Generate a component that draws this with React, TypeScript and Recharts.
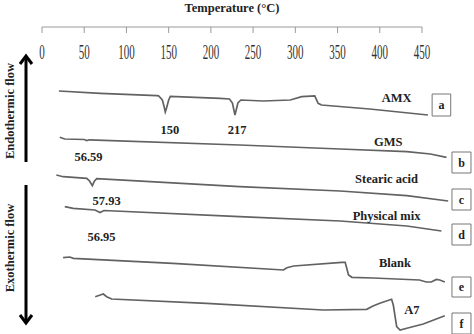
import {
  LineChart,
  Line,
  XAxis,
  YAxis,
  ReferenceLine,
  ReferenceDot,
  ReferenceArea,
} from "recharts";

const tempTicks = [0, 50, 100, 150, 200, 250, 300, 350, 400, 450];

// DSC traces: [temperature °C, heat flow (arbitrary units, each trace offset)]
const amx = [
  [20, 236], [69, 233.7], [136, 231.3], [138, 231.2], [142.5, 227], [145, 219],
  [146, 215], [147.5, 219], [150, 227], [152, 230.7], [211, 228.7], [222, 228],
  [225.5, 224], [227.5, 216], [228.5, 212], [230, 217], [232, 224], [235.5, 227],
  [262, 226], [294, 227], [307.5, 230.3], [323, 231], [327, 223.7], [331, 222],
  [388, 218], [457, 212],
];
const gms = [
  [21, 189.7], [27, 188], [50, 187.5], [53, 186.5], [56, 187.2], [234, 182],
  [353, 178], [432, 175.3], [460, 173], [479, 169.7],
];
const stearic = [
  [17, 152], [25, 150.3], [53, 148.7], [56.3, 146], [59.6, 141.3], [62.2, 146],
  [64.8, 148.3], [234, 140.3], [353, 136], [432, 131.3], [481, 126],
];
const physMix = [
  [27, 120.3], [37, 118.7], [62.7, 117], [68.7, 114.5], [73.4, 116.5],
  [234, 110.3], [353, 106], [432, 101], [473, 96],
];
const blank = [
  [25, 69.3], [33, 70], [37, 68.7], [155, 63.7], [286, 57], [290, 59.3],
  [298, 61], [355, 64.7], [359, 64.7], [363, 52], [367, 49.7], [392, 49],
  [447, 47], [455, 45], [461, 45], [467, 47.5], [471, 47], [477, 45],
];
const a7 = [
  [63, 30.3], [69, 32], [72.6, 33], [76.6, 30.3], [82.5, 28], [195, 23.7],
  [333, 17], [384.5, 17.7], [392, 21], [400, 23.7], [414, 27.7], [416, 22],
  [420, 0.3], [424, -3], [432, -1.3], [451.5, 3], [477, 11.3],
];

const traces = [amx, gms, stearic, physMix, blank, a7];

const traceNames = [
  { text: "AMX", t: 420, v: 229 },
  { text: "GMS", t: 410, v: 185 },
  { text: "Stearic acid", t: 408, v: 148.5 },
  { text: "Physical mix", t: 408, v: 111 },
  { text: "Blank", t: 418, v: 64 },
  { text: "A7", t: 438, v: 17 },
];

const peakLabels = [
  { text: "150", t: 151.5, v: 197 },
  { text: "217", t: 231, v: 197 },
  { text: "56.59", t: 55, v: 170 },
  { text: "57.93", t: 76.5, v: 126 },
  { text: "56.95", t: 70.5, v: 90 },
];

const panels = [
  { id: "a", t1: 462, t2: 484, v1: 211, v2: 233 },
  { id: "b", t1: 485.5, t2: 508, v1: 154, v2: 175 },
  { id: "c", t1: 485.5, t2: 508, v1: 117, v2: 138 },
  { id: "d", t1: 485.5, t2: 508, v1: 82, v2: 103 },
  { id: "e", t1: 485.5, t2: 508, v1: 30, v2: 50 },
  { id: "f", t1: 485.5, t2: 508, v1: -7, v2: 14 },
];

const serif = "'Liberation Serif', 'Times New Roman', serif";

// condensed serif digits like the scanned figure
const renderTempTick = (props: any) => {
  const { x, y, payload } = props;
  return (
    <g transform={`translate(${x},${y})`}>
      <text
        transform="scale(0.55,1)"
        x={0}
        y={0}
        textAnchor="middle"
        dy={24}
        fontSize={20}
        fontFamily={serif}
        fill="#333"
      >
        {payload.value}
      </text>
    </g>
  );
};

const textShape = (text: string) => (p: any) => (
  <text
    x={p.cx}
    y={p.cy}
    textAnchor="middle"
    dominantBaseline="central"
    fontSize={12.5}
    fontWeight="bold"
    fontFamily={serif}
    fill="#222"
  >
    {text}
  </text>
);

export default function App() {
  return (
    <div
      style={{
        position: "absolute",
        left: 0,
        top: 0,
        width: 474,
        height: 334,
        background: "#fff",
        overflow: "hidden",
      }}
    >
      <LineChart
        width={474}
        height={334}
        margin={{ top: 27, right: 1.33, bottom: 0, left: 42 }}
      >
        <XAxis
          type="number"
          dataKey="t"
          orientation="top"
          mirror
          domain={[0, 510]}
          allowDataOverflow
          ticks={tempTicks}
          axisLine={false}
          tickLine={{ stroke: "#999" }}
          tickSize={6}
          tick={renderTempTick}
        />
        <YAxis type="number" dataKey="v" hide domain={[-7, 300]} allowDataOverflow />
        <ReferenceLine
          segment={[
            { x: 0, y: 300 },
            { x: 450, y: 300 },
          ]}
          stroke="#999"
          strokeWidth={1.2}
        />
        {traces.map((rows, i) => (
          <Line
            key={i}
            data={rows.map(([t, v]) => ({ t, v }))}
            dataKey="v"
            type="linear"
            stroke="#626262"
            strokeWidth={1.7}
            dot={false}
            isAnimationActive={false}
          />
        ))}
        {traceNames.concat(peakLabels).map((l) => (
          <ReferenceDot
            key={l.text}
            x={l.t}
            y={l.v}
            r={0}
            ifOverflow="visible"
            shape={textShape(l.text)}
          />
        ))}
        {panels.map((p) => (
          <ReferenceArea
            key={p.id}
            x1={p.t1}
            x2={p.t2}
            y1={p.v1}
            y2={p.v2}
            fill="#fff"
            fillOpacity={1}
            stroke="#777"
            strokeWidth={1}
            ifOverflow="visible"
            label={{
              value: p.id,
              position: "center",
              fontSize: 12,
              fontWeight: "bold",
              fontFamily: serif,
              fill: "#222",
            }}
          />
        ))}
      </LineChart>
      <svg
        width={474}
        height={334}
        style={{ position: "absolute", left: 0, top: 0, pointerEvents: "none" }}
      >
        <text
          x={232}
          y={8}
          textAnchor="middle"
          dominantBaseline="central"
          fontSize={12.5}
          fontWeight="bold"
          fontFamily={serif}
          fill="#222"
        >
          Temperature (°C)
        </text>
        <g stroke="#000" strokeWidth={3} fill="none">
          <line x1={26} y1={57} x2={26} y2={162} />
          <polyline points="20,64 26,56 32,64" />
          <line x1={26} y1={185} x2={26} y2={322} />
          <polyline points="20,315 26,323 32,315" />
        </g>
        <text
          transform="translate(10,111) rotate(-90)"
          textAnchor="middle"
          dominantBaseline="central"
          fontSize={12.5}
          fontWeight="bold"
          fontFamily={serif}
          fill="#222"
        >
          Endothermic flow
        </text>
        <text
          transform="translate(10,248) rotate(-90)"
          textAnchor="middle"
          dominantBaseline="central"
          fontSize={12.5}
          fontWeight="bold"
          fontFamily={serif}
          fill="#222"
        >
          Exothermic flow
        </text>
      </svg>
    </div>
  );
}
